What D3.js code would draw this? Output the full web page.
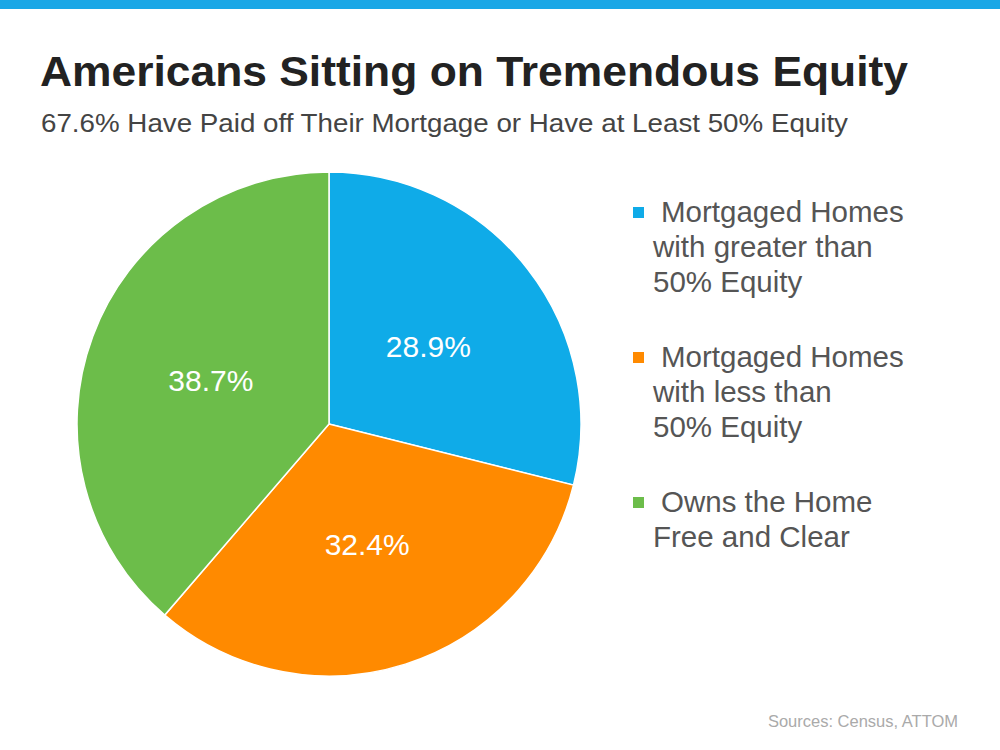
<!DOCTYPE html>
<html lang="en">
<head>
<meta charset="UTF-8">
<title>Americans Sitting on Tremendous Equity</title>
<style>
  body { margin: 0; background: #fff; }
  svg { display: block; font-family: "Liberation Sans", Arial, sans-serif; }
</style>
</head>
<body>
<svg id="chart" width="1000" height="750"></svg>
<script src="https://cdn.jsdelivr.net/npm/d3@7"></script>
<script>
var categories = ["Mortgaged Homes with greater than 50% Equity",
                  "Mortgaged Homes with less than 50% Equity",
                  "Owns the Home Free and Clear"],
    values = [28.9, 32.4, 38.7],
    legendLines = [["Mortgaged Homes", "with greater than", "50% Equity"],
                   ["Mortgaged Homes", "with less than", "50% Equity"],
                   ["Owns the Home", "Free and Clear"]],
    colors = ["#0fabe8", "#ff8a00", "#6cbd4a"];

var svg = d3.select("#chart");

svg.append("rect").attr("x", 0).attr("y", 0).attr("width", 1000).attr("height", 9).attr("fill", "#1aa7e6");

svg.append("text").attr("x", 40).attr("y", 86)
  .attr("font-size", 43).attr("font-weight", "bold").attr("fill", "#222")
  .attr("textLength", 868).attr("lengthAdjust", "spacingAndGlyphs")
  .text("Americans Sitting on Tremendous Equity");
svg.append("text").attr("x", 41).attr("y", 132)
  .attr("font-size", 25).attr("fill", "#444")
  .attr("textLength", 807).attr("lengthAdjust", "spacingAndGlyphs")
  .text("67.6% Have Paid off Their Mortgage or Have at Least 50% Equity");

var cx = 329, cy = 424, r = 252;
var pie = d3.pie().sort(null)(values);
var arc = d3.arc().innerRadius(0).outerRadius(r);
var g = svg.append("g").attr("transform", `translate(${cx},${cy})`);
g.selectAll("path").data(pie).enter().append("path")
  .attr("d", arc)
  .attr("fill", (d, i) => colors[i])
  .attr("stroke", "#fff").attr("stroke-width", 1.5);

var labelArc = d3.arc().innerRadius(r * 0.5).outerRadius(r * 0.5);
g.selectAll("text.val").data(pie).enter().append("text")
  .attr("class", "val")
  .attr("transform", d => `translate(${labelArc.centroid(d)})`)
  .attr("text-anchor", "middle").attr("dy", "0.35em")
  .attr("font-size", 30).attr("fill", "#fff")
  .text(d => d.data.toFixed(1) + "%");

var legY = [222, 367, 512];
var leg = svg.selectAll("g.leg").data(categories).enter().append("g").attr("class", "leg");
leg.append("rect")
  .attr("x", 633).attr("y", (d, i) => legY[i] - 15)
  .attr("width", 11).attr("height", 11)
  .attr("fill", (d, i) => colors[i]);
leg.each(function(d, i) {
  var t = d3.select(this);
  legendLines[i].forEach(function(line, j) {
    t.append("text")
      .attr("x", j === 0 ? 661 : 653).attr("y", legY[i] + j * 35)
      .attr("font-size", 29.5).attr("fill", "#555")
      .text(line);
  });
});

svg.append("text").attr("x", 958).attr("y", 727).attr("text-anchor", "end")
  .attr("font-size", 16.5).attr("fill", "#aaa")
  .text("Sources: Census, ATTOM");
</script>
</body>
</html>
